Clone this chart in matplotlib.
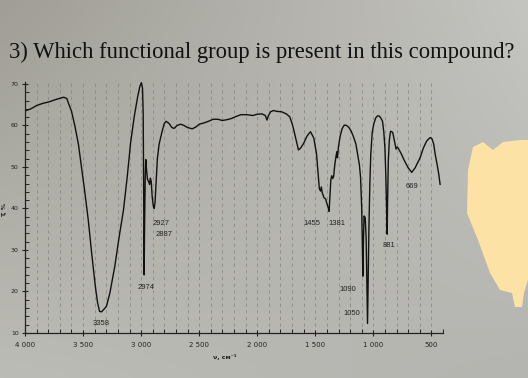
import numpy as np
import matplotlib
matplotlib.use("Agg")
import matplotlib.pyplot as plt
from matplotlib.ticker import MultipleLocator, FuncFormatter
from matplotlib.patches import Polygon

# ---- data -------------------------------------------------------------
wavenumber = [4000, 3950, 3900, 3850, 3792, 3730, 3667, 3640, 3625, 3600, 3569, 3540, 3514,
              3485, 3455, 3425, 3394, 3375, 3358, 3340, 3299, 3270, 3227, 3190, 3152, 3120,
              3091, 3060, 3030, 3010, 2997, 2988, 2982, 2978, 2974, 2970, 2965, 2960, 2952,
              2945, 2935, 2927, 2920, 2913, 2905, 2895, 2887, 2880, 2870, 2860, 2845, 2820,
              2800, 2785, 2760, 2735, 2715, 2690, 2660, 2630, 2600, 2560, 2530, 2500, 2460,
              2420, 2380, 2340, 2300, 2260, 2220, 2180, 2140, 2090, 2040, 2000, 1960, 1930,
              1916, 1905, 1885, 1860, 1830, 1790, 1750, 1720, 1700, 1685, 1665, 1645, 1625,
              1600, 1570, 1541, 1513, 1490, 1475, 1465, 1455, 1448, 1440, 1425, 1411, 1400,
              1390, 1381, 1374, 1366, 1358, 1350, 1342, 1332, 1322, 1314, 1309, 1300, 1285,
              1268, 1250, 1230, 1210, 1190, 1170, 1150, 1135, 1120, 1110, 1100, 1094, 1090,
              1086, 1080, 1070, 1062, 1055, 1050, 1045, 1038, 1030, 1022, 1010, 995, 980,
              965, 950, 935, 921, 910, 900, 892, 885, 881, 877, 871, 862, 852, 840, 832,
              818, 804, 795, 785, 760, 732, 700, 669, 640, 615, 596, 570, 540, 510, 495,
              480, 467, 450, 435, 425]
transmittance = [63.5, 64.0, 64.8, 65.3, 65.7, 66.3, 66.8, 66.5, 65.3, 63.5, 59.7, 55.5, 50.1,
                 44.0, 37.2, 29.0, 21.2, 17.3, 15.2, 15.1, 16.4, 19.5, 26.0, 33.0, 39.6, 47.5,
                 55.7, 62.0, 66.9, 69.5, 70.3, 69.0, 63.0, 45.0, 24.0, 36.0, 47.0, 51.8, 49.0,
                 47.0, 46.5, 45.8, 47.3, 46.5, 43.0, 40.5, 40.0, 41.5, 47.0, 52.0, 55.5, 58.5,
                 60.5, 61.0, 60.5, 59.5, 59.3, 60.0, 60.3, 60.0, 59.5, 59.2, 59.6, 60.3, 60.6,
                 61.0, 61.5, 61.5, 61.2, 61.4, 61.7, 62.2, 62.6, 62.6, 62.4, 62.7, 62.8, 62.4,
                 61.3, 62.3, 63.3, 63.6, 63.4, 63.3, 62.8, 62.1, 60.5, 58.9, 56.5, 54.1, 54.6,
                 55.7, 57.5, 58.5, 57.0, 53.3, 48.0, 44.8, 44.2, 45.2, 43.8, 42.6, 42.3, 41.2,
                 40.3, 39.3, 43.0, 46.9, 47.9, 47.2, 47.7, 50.5, 52.5, 53.7, 52.2, 55.0, 57.5,
                 59.3, 60.1, 60.0, 59.5, 58.6, 57.2, 55.5, 53.0, 50.5, 47.5, 40.0, 30.0, 23.7,
                 31.0, 38.2, 37.8, 33.0, 20.0, 12.3, 22.0, 35.3, 46.0, 53.0, 58.3, 60.5, 61.8,
                 62.3, 62.3, 61.8, 61.0, 58.5, 54.5, 47.5, 38.0, 33.8, 42.0, 51.5, 56.5, 58.6,
                 58.5, 58.2, 56.3, 54.3, 54.8, 54.5, 53.2, 51.5, 49.8, 48.7, 49.8, 51.2, 52.3,
                 54.5, 56.3, 57.1, 56.8, 55.5, 53.0, 50.5, 48.0, 45.8]

peak_labels = ["3358", "2974", "2927", "2887", "1455", "1381", "1090", "1050", "881", "669"]
peak_label_x = [3342, 2956, 2828, 2799, 1527, 1316, 1219, 1182, 867, 667]
peak_label_y = [12.4, 20.9, 36.3, 33.8, 36.3, 36.3, 20.4, 14.7, 31.2, 45.4]

title = "3) Which functional group is present in this compound?"

# ---- figure ----------------------------------------------------------
W, H = 528, 378
fig = plt.figure(figsize=(W / 100, H / 100), dpi=100)

# photo-like background gradient
bg = fig.add_axes([0, 0, 1, 1], zorder=-10)
tl = np.array([160, 158, 150]) / 255
tr = np.array([196, 196, 192]) / 255
bl = np.array([188, 188, 182]) / 255
br = np.array([180, 180, 176]) / 255
u = np.linspace(0, 1, 64)[None, :, None]
v = np.linspace(0, 1, 48)[:, None, None]
img = (1 - v) * ((1 - u) * tl + u * tr) + v * ((1 - u) * bl + u * br)
bg.imshow(img, aspect="auto", extent=[0, 1, 0, 1], interpolation="bilinear")
bg.set_axis_off()

ax = fig.add_axes([25 / W, 1 - 333 / H, (443 - 25) / W, (333 - 81.9) / H])
ax.patch.set_alpha(0)
ax.plot(wavenumber, transmittance, color="#111111", lw=1.0)
ax.set_xlim(4000, 400)
ax.set_ylim(10, 70.5)

for s in ["top", "right"]:
    ax.spines[s].set_visible(False)
for s in ["left", "bottom"]:
    ax.spines[s].set_color("#222222")
    ax.spines[s].set_linewidth(0.9)

ax.xaxis.set_major_locator(MultipleLocator(500))
ax.xaxis.set_minor_locator(MultipleLocator(100))
ax.yaxis.set_major_locator(MultipleLocator(10))
ax.yaxis.set_minor_locator(MultipleLocator(2))

def fmt_x(v, pos):
    v = int(round(v))
    if v >= 1000:
        return f"{v // 1000} {v % 1000:03d}"
    return str(v)

ax.xaxis.set_major_formatter(FuncFormatter(fmt_x))
ax.tick_params(axis="both", which="major", direction="inout", length=5, width=0.8,
               labelsize=5, colors="#222222", pad=3)
ax.tick_params(axis="y", which="major", labelsize=4.5, pad=2)
ax.tick_params(axis="both", which="minor", direction="in", length=3, width=0.7, colors="#222222")
ax.tick_params(axis="x", which="major", pad=4)

ax.grid(axis="x", which="both", color="#8a8a85", lw=0.6, linestyle=(0, (4, 4)))

for lab, lx, ly in zip(peak_labels, peak_label_x, peak_label_y):
    ax.text(lx, ly, lab, fontsize=5.5, ha="center", va="center", color="#222222",
            family="Liberation Sans")

fig.text(5 / W, 1 - 210 / H, "T, %", rotation=90, fontsize=4.5, fontweight="bold",
         ha="center", va="center", color="#222222")
fig.text(225 / W, 1 - 357 / H, "ν, см⁻¹", fontsize=4.5, fontweight="bold",
         ha="center", va="center", color="#222222")

fig.text(262 / W, 1 - 52 / H, title, fontsize=16.3, family="Liberation Serif",
         ha="center", va="center", color="#111111")

# peach redaction blob
blob_px = [(528, 140), (520, 140), (503, 142), (493, 150), (483, 142), (473, 147),
           (468, 170), (467, 213), (478, 240), (490, 273), (500, 290), (512, 293),
           (515, 307), (522, 307), (524, 293), (528, 280)]
blob = Polygon([(x / W, 1 - y / H) for x, y in blob_px], closed=True,
               transform=fig.transFigure, facecolor="#fde2a6", edgecolor="none",
               joinstyle="round")
fig.patches.append(blob)

fig.savefig("out.png", dpi=100)
